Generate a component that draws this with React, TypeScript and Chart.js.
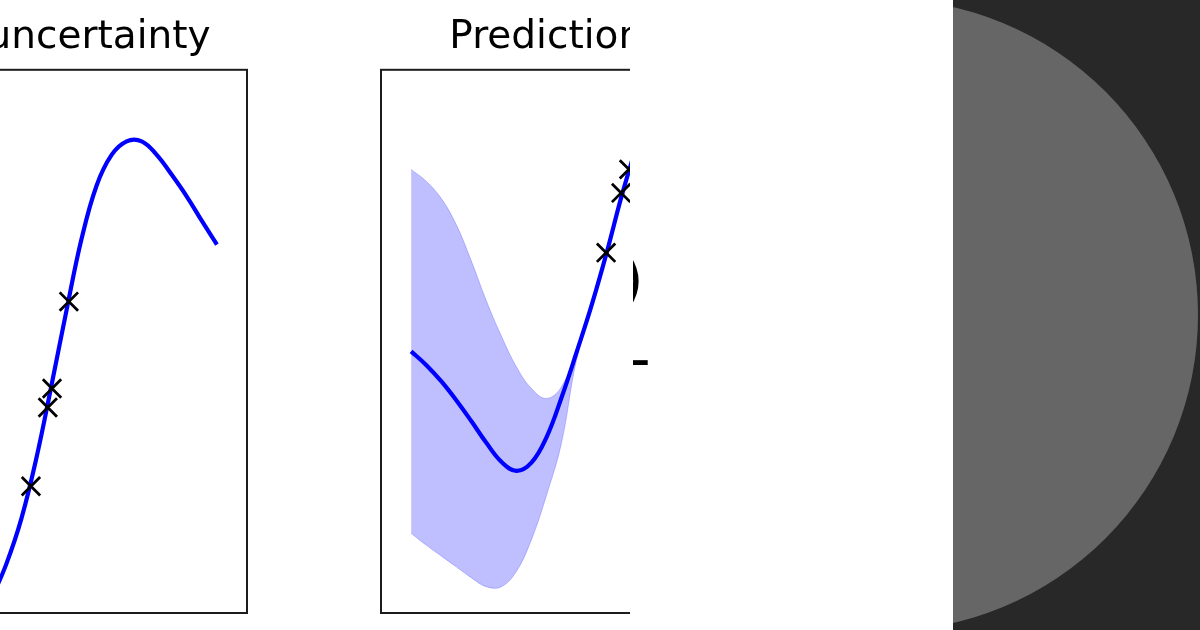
import React, { useEffect, useRef } from "react";
import { Chart, registerables } from "chart.js";

Chart.register(...registerables);

// ---------- data ----------
const leftTitle = "Prediction without uncertainty";
const midTitle = "Prediction with uncertainty";

const leftLineX = [6.25, 6.5, 6.75, 7.0, 7.25, 7.5, 7.75, 8.0, 8.25, 8.5, 8.75, 9.0, 9.25, 9.5, 9.75, 10.0];
const leftLineY = [-2.85, -2.46, -1.96, -1.29, -0.49, 0.34, 1.13, 1.72, 2.06, 2.21, 2.21, 2.06, 1.84, 1.6, 1.33, 1.07];
const leftTrainX = [6.91, 7.19, 7.26, 7.54];
const leftTrainY = [-1.6, -0.73, -0.52, 0.44];

const midX = [0, 0.25, 0.5, 0.75, 1.0, 1.25, 1.5, 1.75, 2.0, 2.25, 2.5, 2.75, 3.0, 3.25, 3.5, 3.75];
const midMean = [-0.11, -0.26, -0.44, -0.65, -0.88, -1.12, -1.33, -1.43, -1.34, -1.06, -0.62, -0.12, 0.4, 0.98, 1.61, 2.17];
const midUpper = [1.9, 1.77, 1.58, 1.29, 0.89, 0.45, 0.06, -0.28, -0.52, -0.63, -0.5, -0.08, 0.43, 1.0, 1.63, 2.19];
const midLower = [-2.12, -2.25, -2.37, -2.49, -2.61, -2.71, -2.71, -2.54, -2.19, -1.7, -1.12, -0.2, 0.36, 0.96, 1.59, 2.15];
const midTrainX = [3.24, 3.49, 3.62];
const midTrainY = [0.98, 1.64, 1.9];

const pieLabels = ["area"];
const pieValues = [1];

// ---------- helpers ----------
const pts = (xs: number[], ys: number[]) => xs.map((x, i) => ({ x, y: ys[i] }));

const framePlugin = {
  id: "frame",
  afterDatasetsDraw(chart: any) {
    const { ctx, chartArea: a } = chart;
    ctx.save();
    ctx.strokeStyle = "#1c1c1c";
    ctx.lineWidth = 2;
    ctx.strokeRect(a.left, a.top, a.right - a.left, a.bottom - a.top);
    ctx.restore();
  },
};

const FONT = "'DejaVu Sans', 'Liberation Sans', sans-serif";

function axesOptions(title: string) {
  return {
    animation: false as const,
    responsive: false,
    devicePixelRatio: 1,
    layout: { padding: { left: 20, right: 20, top: 0, bottom: 17 } },
    scales: {
      x: { type: "linear" as const, min: -0.5, max: 10.5, display: false },
      y: { type: "linear" as const, min: -3, max: 3, display: false },
    },
    plugins: {
      legend: { display: false },
      tooltip: { enabled: false },
      title: {
        display: true,
        text: title,
        color: "#000",
        font: { family: FONT, size: 39, weight: "normal" as const, lineHeight: 1.2 },
        padding: { top: 14, bottom: 9 },
      },
    },
  };
}

const crossStyle = {
  showLine: false,
  pointStyle: "crossRot" as const,
  pointRadius: 13,
  pointBorderWidth: 2.8,
  pointBorderColor: "#000",
  borderColor: "#000",
  backgroundColor: "#000",
};

const smooth = { tension: 0.4, pointRadius: 0 };

function makeLeft() {
  return {
    type: "line" as const,
    data: {
      datasets: [
        {
          ...crossStyle,
          type: "scatter" as const,
          data: pts(leftTrainX, leftTrainY),
          order: 0,
        },
        {
          ...smooth,
          data: pts(leftLineX, leftLineY),
          borderColor: "#0000ff",
          borderWidth: 4.2,
          fill: false,
          order: 1,
        },
      ],
    },
    options: axesOptions(leftTitle),
    plugins: [framePlugin],
  };
}

function makeMid() {
  return {
    type: "line" as const,
    data: {
      datasets: [
        {
          ...smooth,
          data: pts(midX, midUpper),
          borderColor: "rgba(0,0,255,0.22)",
          borderWidth: 1,
          backgroundColor: "rgba(0,0,255,0.25)",
          fill: "+1",
          order: 3,
        },
        {
          ...smooth,
          data: pts(midX, midLower),
          borderColor: "rgba(0,0,255,0.22)",
          borderWidth: 1,
          fill: false,
          order: 4,
        },
        {
          ...smooth,
          data: pts(midX, midMean),
          borderColor: "#0000ff",
          borderWidth: 4.2,
          fill: false,
          order: 1,
        },
        {
          ...crossStyle,
          type: "scatter" as const,
          data: pts(midTrainX, midTrainY),
          order: 0,
        },
      ],
    },
    options: axesOptions(midTitle),
    plugins: [framePlugin],
  };
}

function makePie() {
  return {
    type: "pie" as const,
    data: {
      labels: pieLabels,
      datasets: [{ data: pieValues, backgroundColor: ["#666666"], borderWidth: 0 }],
    },
    options: {
      animation: false as const,
      responsive: false,
      devicePixelRatio: 1,
      layout: { padding: 0 },
      plugins: { legend: { display: false }, tooltip: { enabled: false } },
    },
  };
}

function ChartCanvas({ make, width, height, left, top }: any) {
  const ref = useRef<HTMLCanvasElement | null>(null);
  useEffect(() => {
    const chart = new Chart(ref.current as HTMLCanvasElement, make());
    return () => chart.destroy();
  }, []);
  return (
    <canvas
      ref={ref}
      width={width}
      height={height}
      style={{ position: "absolute", left, top, width, height, display: "block" }}
    />
  );
}

export default function App() {
  return (
    <div
      style={{
        position: "fixed",
        left: 0,
        top: 0,
        width: 1200,
        height: 630,
        overflow: "hidden",
        background: "#ffffff",
      }}
    >
      {/* left panel */}
      <div style={{ position: "absolute", left: 0, top: 0, width: 300, height: 630, overflow: "hidden" }}>
        <ChartCanvas make={makeLeft} width={702} height={630} left={-435} top={0} />
      </div>
      {/* middle panel, cropped */}
      <div style={{ position: "absolute", left: 361, top: 0, width: 269, height: 630, overflow: "hidden" }}>
        <ChartCanvas make={makeMid} width={702} height={630} left={0} top={0} />
      </div>
      {/* fragments of text peeking in */}
      <div
        style={{
          position: "absolute",
          left: 633,
          top: 0,
          width: 30,
          height: 630,
          overflow: "hidden",
          fontFamily: FONT,
          color: "#000",
        }}
      >
        <span style={{ position: "absolute", left: -12, top: 251, fontSize: 58, lineHeight: "58px", whiteSpace: "pre" }}>)</span>
        <span style={{ position: "absolute", left: -4, top: 328, fontSize: 60, lineHeight: "60px", whiteSpace: "pre" }}>-</span>
      </div>
      {/* right dark panel with grey disc */}
      <div
        style={{
          position: "absolute",
          left: 953,
          top: 0,
          width: 247,
          height: 630,
          overflow: "hidden",
          background: "#282828",
        }}
      >
        <ChartCanvas make={makePie} width={632} height={632} left={-387} top={-1} />
      </div>
    </div>
  );
}
